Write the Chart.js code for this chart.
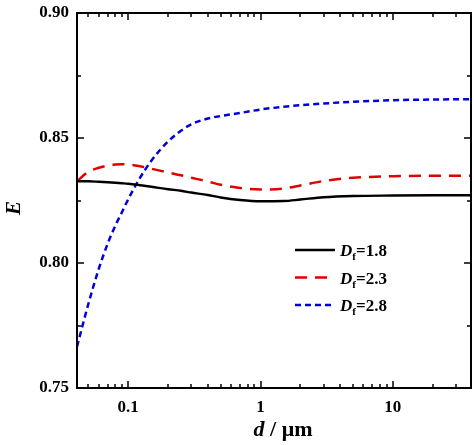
<!DOCTYPE html>
<html>
<head>
<meta charset="utf-8">
<script src="https://cdn.jsdelivr.net/npm/chart.js@4.4.0/dist/chart.umd.min.js"></script>
<style>
  html, body { margin: 0; padding: 0; background: #fff; }
  canvas { display: block; }
</style>
</head>
<body>
<canvas id="myChart" width="474" height="445"></canvas>
<script>
// particle size d (um), shared by all three curves
var dValues = [0.041, 0.05, 0.06, 0.07, 0.08, 0.09, 0.1, 0.12, 0.15, 0.2, 0.25, 0.3, 0.4, 0.5, 0.7, 1, 1.5, 2, 3, 5, 10, 20, 39];
var fractalDims = ["1.8", "2.3", "2.8"];
var eDf18 = [0.8327, 0.8327, 0.8325, 0.8323, 0.8321, 0.8319, 0.8317, 0.8312, 0.8305, 0.8295, 0.8289, 0.8282, 0.8272, 0.8262, 0.8252, 0.8247, 0.8248, 0.8254, 0.8263, 0.8268, 0.8270, 0.8271, 0.8271];
var eDf23 = [0.8327, 0.8365, 0.8381, 0.8390, 0.8394, 0.8395, 0.8394, 0.8388, 0.8377, 0.8362, 0.8351, 0.8341, 0.8326, 0.8313, 0.8300, 0.8294, 0.8298, 0.8310, 0.8328, 0.8341, 0.8347, 0.8349, 0.8349];
var eDf28 = [0.7665, 0.7837, 0.7978, 0.8078, 0.8150, 0.8205, 0.8255, 0.8332, 0.8410, 0.8486, 0.8529, 0.8555, 0.8578, 0.8588, 0.8600, 0.8614, 0.8625, 0.8631, 0.8638, 0.8645, 0.8651, 0.8654, 0.8655];
var yMajor = [0.75, 0.80, 0.85, 0.90];
var yMinor = [0.775, 0.825, 0.875];
var xMajor = [0.1, 1, 10];
var xMinor = [0.05, 0.06, 0.07, 0.08, 0.09, 0.2, 0.3, 0.4, 0.5, 0.6, 0.7, 0.8, 0.9, 2, 3, 4, 5, 6, 7, 8, 9, 20, 30];

var serif = "'Liberation Serif', 'Times New Roman', serif";

function toPoints(arr) {
  var pts = [];
  for (var i = 0; i < dValues.length; i++) {
    pts.push({ x: dValues[i], y: arr[i] });
  }
  return pts;
}

var dataSource = {
  datasets: [
    { label: "Df=" + fractalDims[0], data: toPoints(eDf18), borderColor: "#000000", borderWidth: 2.3, borderDash: [] },
    { label: "Df=" + fractalDims[1], data: toPoints(eDf23), borderColor: "#e00000", borderWidth: 2.5, borderDash: [12, 8] },
    { label: "Df=" + fractalDims[2], data: toPoints(eDf28), borderColor: "#0000dd", borderWidth: 2.5, borderDash: [6, 4] },
  ],
};
dataSource.datasets.forEach(function (ds) {
  ds.pointRadius = 0;
  ds.fill = false;
  ds.cubicInterpolationMode = "monotone";
});

// frame, inward ticks, axis titles and legend
var framePlugin = {
  id: "frame",
  afterDraw: function (chart) {
    var ctx = chart.ctx;
    var ca = chart.chartArea;
    var xs = chart.scales.x;
    var ys = chart.scales.y;
    ctx.save();
    ctx.strokeStyle = "#000";
    ctx.lineWidth = 2;
    ctx.setLineDash([]);
    ctx.strokeRect(ca.left, ca.top, ca.right - ca.left, ca.bottom - ca.top);

    function yTick(v, len) {
      var p = Math.round(ys.getPixelForValue(v));
      ctx.beginPath();
      ctx.moveTo(ca.left, p); ctx.lineTo(ca.left + len, p);
      ctx.moveTo(ca.right, p); ctx.lineTo(ca.right - len, p);
      ctx.stroke();
    }
    function xTick(v, len) {
      var p = Math.round(xs.getPixelForValue(v));
      ctx.beginPath();
      ctx.moveTo(p, ca.bottom); ctx.lineTo(p, ca.bottom - len);
      ctx.moveTo(p, ca.top); ctx.lineTo(p, ca.top + len);
      ctx.stroke();
    }
    ctx.lineWidth = 1.5;
    yMajor.forEach(function (v) { yTick(v, 7); });
    yMinor.forEach(function (v) { yTick(v, 4); });
    xMajor.forEach(function (v) { xTick(v, 7); });
    xMinor.forEach(function (v) { xTick(v, 4); });

    // axis titles
    ctx.fillStyle = "#000";
    ctx.save();
    ctx.translate(15, 208);
    ctx.rotate(-Math.PI / 2);
    ctx.font = "italic bold 21px " + serif;
    ctx.textAlign = "center";
    ctx.textBaseline = "middle";
    ctx.fillText("E", 0, 0);
    ctx.restore();

    ctx.textBaseline = "alphabetic";
    ctx.textAlign = "left";
    var f1 = "italic bold 22px " + serif;
    var f2 = "bold 22px " + serif;
    ctx.font = f1;
    var w1 = ctx.measureText("d").width;
    ctx.font = f2;
    var w2 = ctx.measureText(" / \u03bcm").width;
    var x0 = 283 - (w1 + w2) / 2;
    ctx.font = f1;
    ctx.fillText("d", x0, 436);
    ctx.font = f2;
    ctx.fillText(" / \u03bcm", x0 + w1, 436);

    // legend
    chart.data.datasets.forEach(function (ds, i) {
      var y = 250 + i * 27.5;
      ctx.strokeStyle = ds.borderColor;
      ctx.lineWidth = ds.borderWidth;
      ctx.setLineDash(ds.borderDash);
      ctx.beginPath();
      ctx.moveTo(295, y);
      ctx.lineTo(335, y);
      ctx.stroke();
      ctx.setLineDash([]);
      var x = 340;
      var base = y + 6;
      ctx.fillStyle = "#000";
      ctx.font = "italic bold 17px " + serif;
      ctx.fillText("D", x, base);
      x += ctx.measureText("D").width;
      ctx.font = "bold 11px " + serif;
      ctx.fillText("f", x, base + 4);
      x += ctx.measureText("f").width;
      ctx.font = "bold 17px " + serif;
      ctx.fillText("=" + fractalDims[i], x, base);
    });
    ctx.restore();
  },
};

var ctx = document.getElementById("myChart").getContext("2d");
var myChart = new Chart(ctx, {
  type: "line",
  data: dataSource,
  plugins: [framePlugin],
  options: {
    responsive: false,
    animation: false,
    devicePixelRatio: 1,
    layout: { padding: { top: 13, right: 3, left: 0, bottom: 0 } },
    plugins: { legend: { display: false }, tooltip: { enabled: false } },
    scales: {
      x: {
        type: "logarithmic",
        min: 0.041,
        max: 39,
        grid: { display: false, drawTicks: false },
        border: { display: false },
        afterFit: function (scale) {
          scale.height = 57;
          scale.paddingLeft = 0;
          scale.paddingRight = 0;
        },
        ticks: {
          autoSkip: false,
          maxRotation: 0,
          padding: 9,
          color: "#000",
          font: { family: serif, size: 17, weight: "bold" },
          callback: function (v) {
            var l = Math.log10(v);
            var k = Math.round(l);
            if (Math.abs(l - k) < 1e-6 && k >= -1 && k <= 1) {
              return String(xMajor[k + 1]);
            }
            return "";
          },
        },
      },
      y: {
        min: 0.75,
        max: 0.90,
        grid: { display: false, drawTicks: false },
        border: { display: false },
        afterFit: function (scale) {
          scale.width = 77;
          scale.paddingTop = 0;
          scale.paddingBottom = 0;
        },
        ticks: {
          stepSize: 0.05,
          padding: 8,
          color: "#000",
          font: { family: serif, size: 17, weight: "bold" },
          callback: function (v) { return v.toFixed(2); },
        },
      },
    },
  },
});
</script>
</body>
</html>
